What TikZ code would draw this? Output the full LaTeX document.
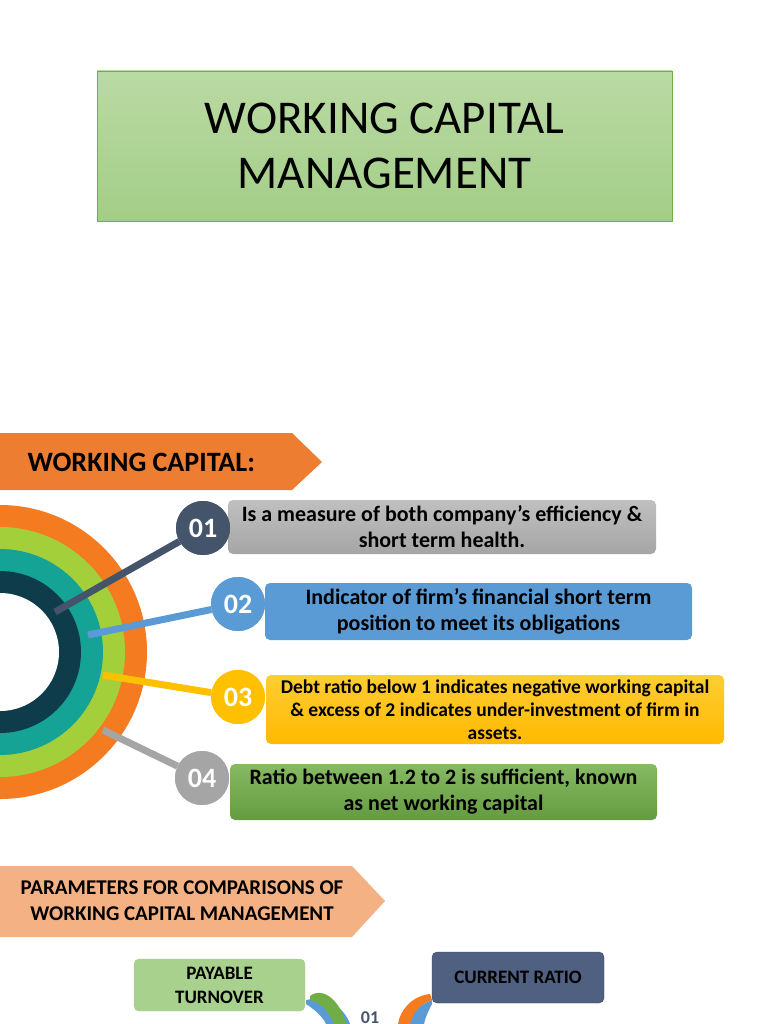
\documentclass[tikz,border=0pt]{standalone}
\usepackage{fontspec}
\setmainfont{Carlito}
\definecolor{cOr}{HTML}{F47B20}
\definecolor{cLime}{HTML}{A3CF3A}
\definecolor{cTeal}{HTML}{14A394}
\definecolor{cDark}{HTML}{0F3C4B}
\definecolor{cN1}{HTML}{44546A}
\definecolor{cBlue}{HTML}{5B9BD5}
\definecolor{cYel}{HTML}{FFC000}
\definecolor{cGray}{HTML}{A5A5A5}
\definecolor{cGrn}{HTML}{70AD47}
\definecolor{cTitle}{HTML}{A9D18E}
\definecolor{cBan}{HTML}{ED7D31}
\definecolor{cSal}{HTML}{F4B183}
\definecolor{cCR}{HTML}{4F6080}
\begin{document}
\begin{tikzpicture}[x=1pt,y=-1pt,
  tbox/.style={rounded corners=5pt,draw=none,align=center,font=\bfseries\fontsize{22}{26}\selectfont},
  num/.style={circle,minimum size=54pt,inner sep=0pt,text=white,font=\bfseries\fontsize{28}{28}\selectfont},
  lk/.style={line width=7pt}]
\useasboundingbox (0,0) rectangle (768,1024);
\fill[white] (0,0) rectangle (768,1024);
% title
\node[draw=cGrn,top color=cTitle!80!white,bottom color=cTitle!90!cGrn,minimum width=575pt,minimum height=150pt,align=center,font=\fontsize{47}{55}\selectfont] (title) at (384.5,146) {WORKING CAPITAL\\MANAGEMENT};
% banner 1
\fill[cBan] (0,433) -- (292,433) -- (322,462) -- (292,490) -- (0,490) -- cycle;
\node[anchor=west,font=\bfseries\fontsize{28}{30}\selectfont] (b1) at (24,462) {WORKING CAPITAL:};
% rings
\begin{scope}
\clip (0,480) rectangle (200,830);
\fill[cOr] (0,652) circle (147);
\fill[cLime] (0,652) circle (125);
\fill[cTeal] (0,652) circle (103);
\fill[cDark] (0,652) circle (81);
\fill[white] (0,652) circle (59);
\end{scope}
% boxes
\node[tbox,top color=cGray!70,bottom color=cGray,minimum width=428pt,minimum height=54pt] (t1) at (442,527) {Is a measure of both company’s efficiency \&\\short term health.};
\node[tbox,fill=cBlue,minimum width=427pt,minimum height=57pt] (t2) at (478.5,611.5) {Indicator of firm’s financial short term\\position to meet its obligations};
\node[tbox,top color=cYel!80,bottom color=cYel!90!orange,minimum width=458pt,minimum height=69pt,font=\bfseries\fontsize{19.5}{23}\selectfont] (t3) at (495,709.5) {Debt ratio below 1 indicates negative working capital\\\& excess of 2 indicates under-investment of firm in\\assets.};
\node[tbox,top color=cGrn!85!white,bottom color=cGrn!90!black,minimum width=427pt,minimum height=56pt] (t4) at (443.5,792) {Ratio between 1.2 to 2 is sufficient, known\\as net working capital};
% connectors
\coordinate (s1) at (55,612);
\coordinate (s2) at (88,635);
\coordinate (s3) at (103,675);
\coordinate (s4) at (103,730);
\node[num,fill=cN1] (n1) at (203,528) {01};
\node[num,fill=cBlue] (n2) at (238,604) {02};
\node[num,fill=cYel] (n3) at (238,697) {03};
\node[num,fill=cGray] (n4) at (202,778) {04};
\draw[lk,cN1] (s1) -- (n1);
\draw[lk,cBlue] (s2) -- (n2);
\draw[lk,cYel] (s3) -- (n3);
\draw[lk,cGray] (s4) -- (n4);
\node[num,fill=cN1] at (n1) {01};
\node[num,fill=cBlue] at (n2) {02};
\node[num,fill=cYel] at (n3) {03};
\node[num,fill=cGray] at (n4) {04};
% banner 2
\fill[cSal] (0,866) -- (352,866) -- (385,901) -- (352,937) -- (0,937) -- cycle;
\node[align=center,font=\bfseries\fontsize{21}{26}\selectfont] (b2) at (182,901) {PARAMETERS FOR COMPARISONS OF\\WORKING CAPITAL MANAGEMENT};
% bottom
\node[tbox,fill=cTitle,draw=cGrn!60,minimum width=171pt,minimum height=52pt,font=\bfseries\fontsize{19}{24}\selectfont] (pt) at (219.5,985) {PAYABLE\\TURNOVER};
\node[tbox,fill=cCR,draw=cCR!80!black,minimum width=172pt,minimum height=51pt,font=\bfseries\fontsize{19}{22}\selectfont] (cr) at (518,977.5) {CURRENT RATIO};
\fill[cBlue] (306,1000) .. controls (330,995) and (345,1010) .. (350,1024) -- (326,1024) .. controls (322,1015) and (312,1008) .. (306,1004) -- cycle;
\fill[cGrn] (310,996) .. controls (325,985) and (342,1005) .. (346,1024) -- (334,1024) .. controls (330,1012) and (320,1002) .. (310,1000) -- cycle;
\fill[cBlue] (432,1000) .. controls (418,1005) and (410,1015) .. (408,1024) -- (424,1024) .. controls (426,1015) and (430,1008) .. (432,1004) -- cycle;
\fill[cOr] (430,994) .. controls (412,996) and (400,1010) .. (398,1024) -- (410,1024) .. controls (413,1012) and (420,1004) .. (432,1000) -- cycle;
\node[font=\bfseries\fontsize{18}{18}\selectfont,anchor=north,text=cN1] (o1) at (370,1008) {01};
\end{tikzpicture}
\end{document}
